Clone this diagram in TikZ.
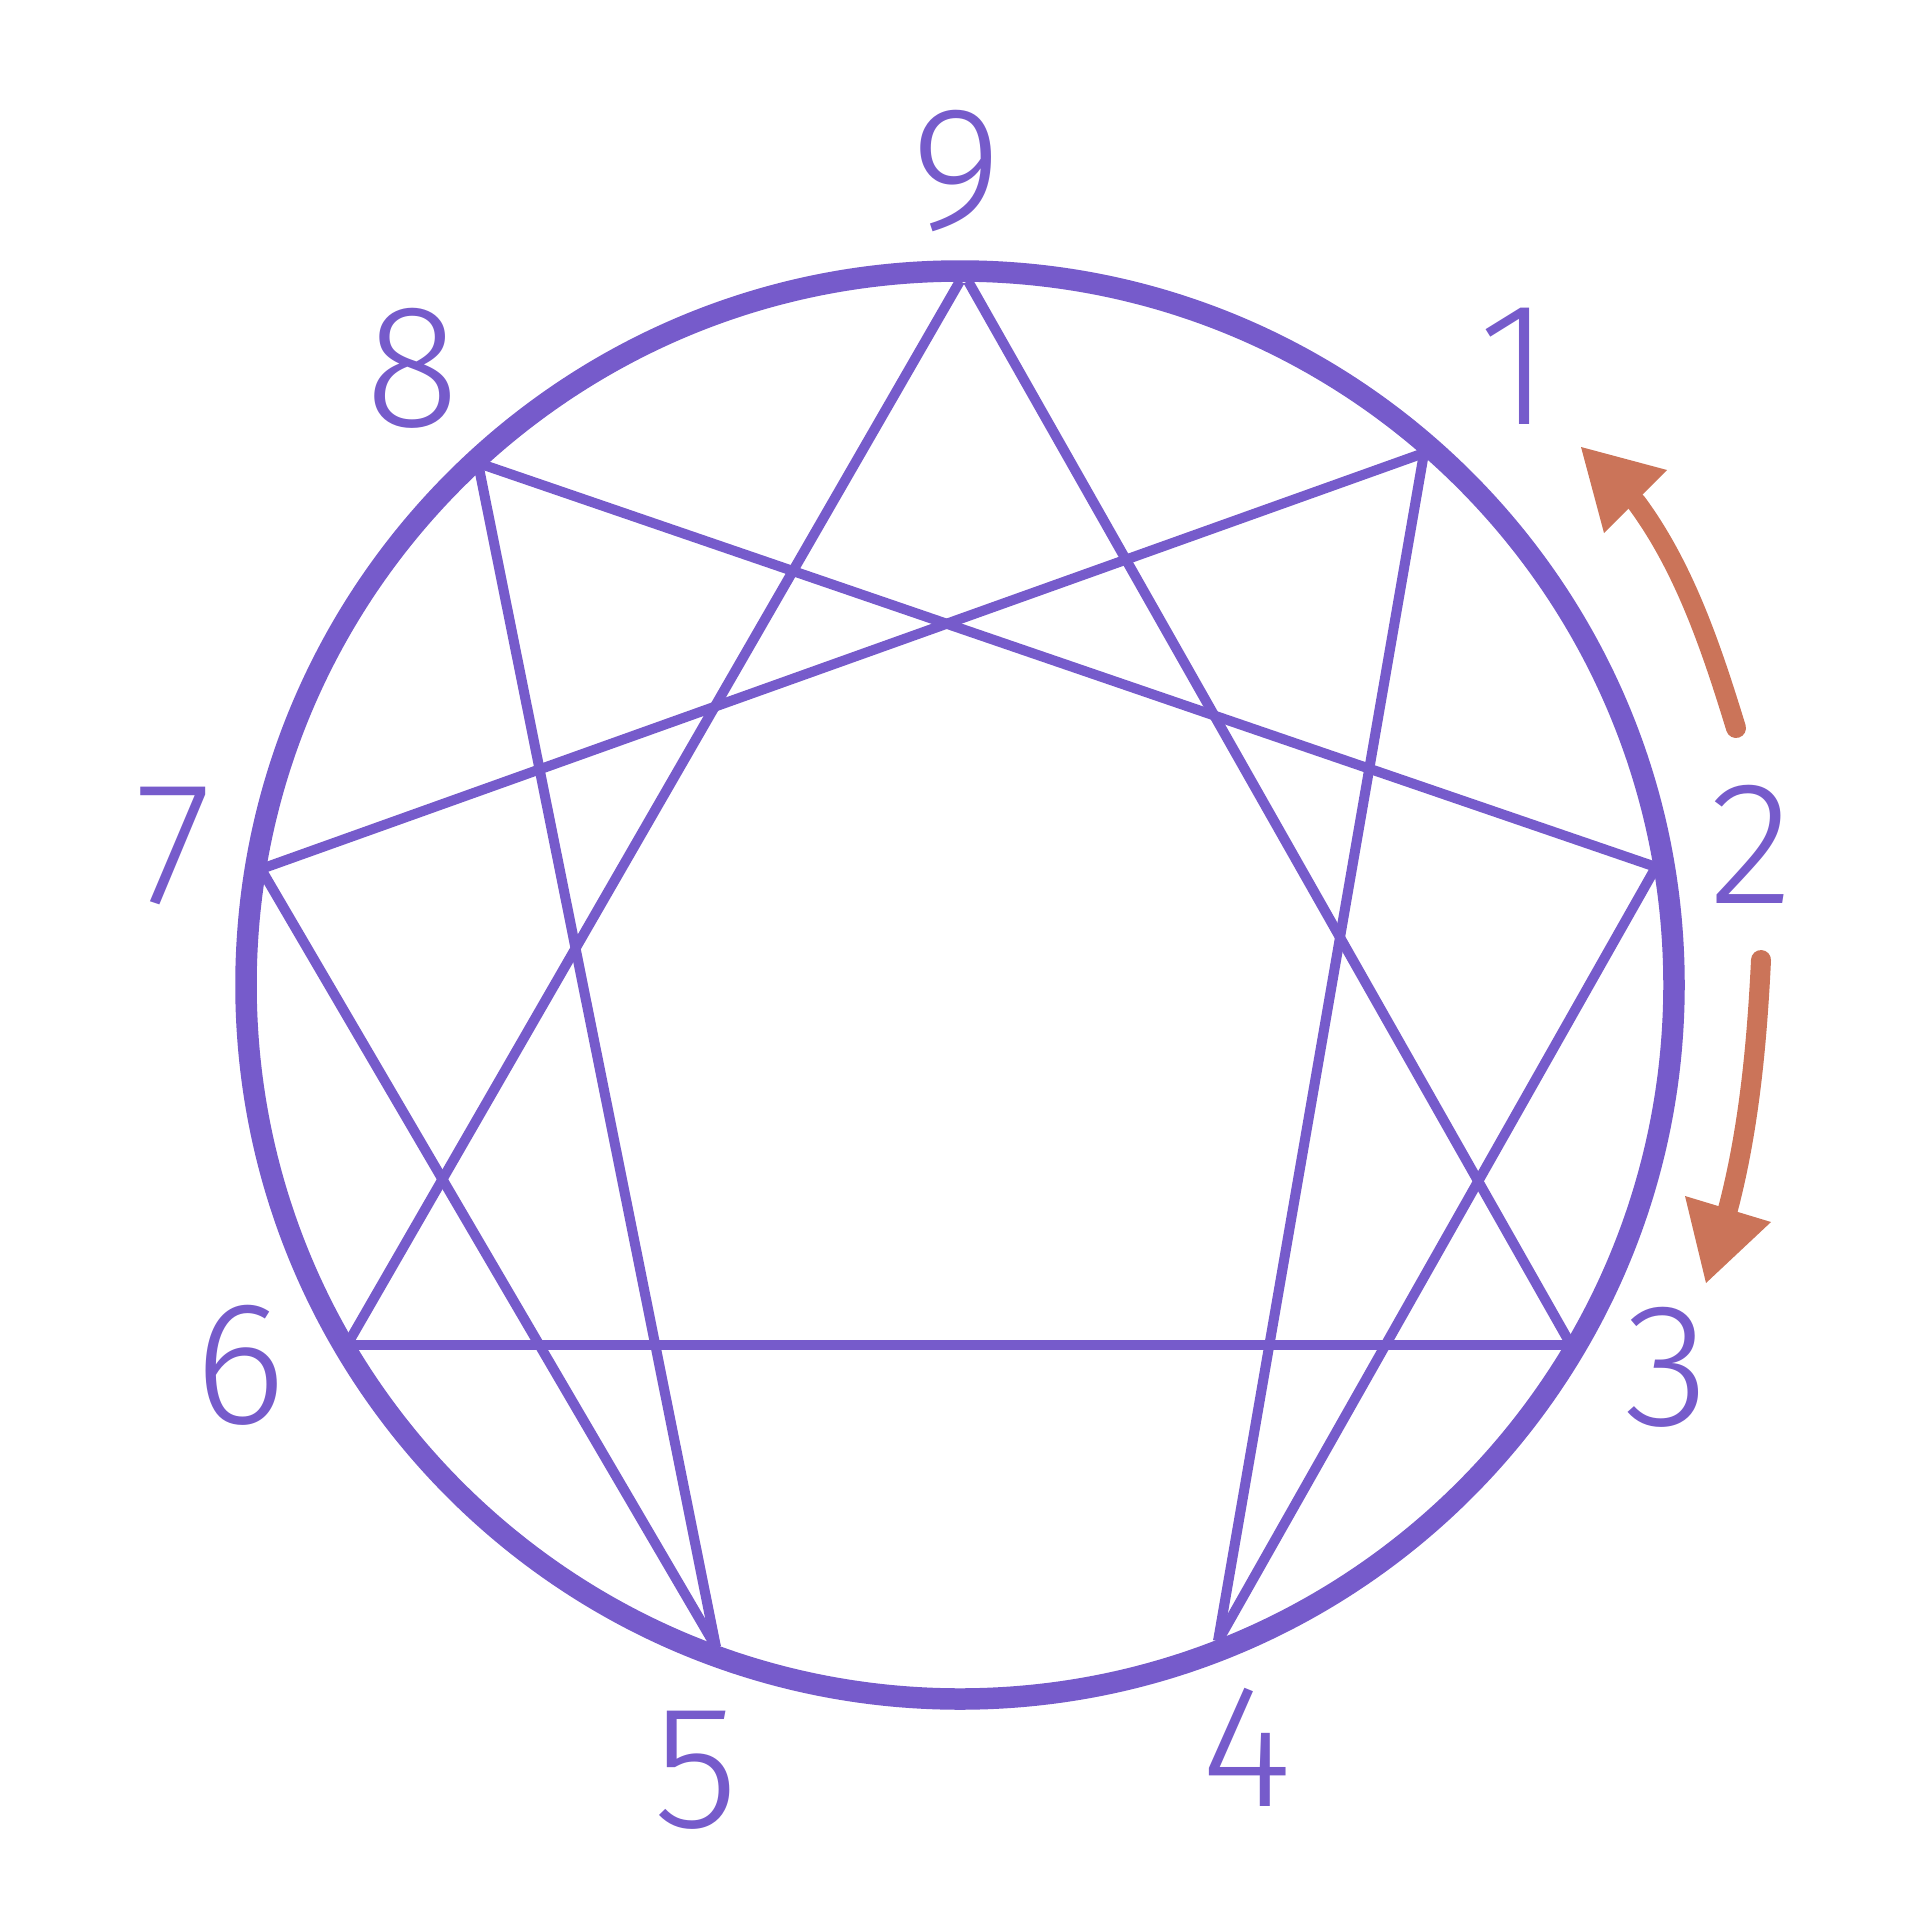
\documentclass[tikz,border=0pt]{standalone}
\usepackage{fontspec}
\setmainfont{Fira Sans Light}
\definecolor{ennpurple}{HTML}{765BCB}
\definecolor{ennorange}{HTML}{CB7459}
\begin{document}
\begin{tikzpicture}[x=1pt,y=-1pt,
  chord/.style={draw=ennpurple, line width=10pt},
  ring/.style={draw=ennpurple, line width=21.5pt},
  lbl/.style={text=ennpurple, inner sep=0pt, font=\fontsize{175}{175}\selectfont},
  flow/.style={draw=ennorange, line width=20pt, line cap=round},
  head/.style={fill=ennorange}]
\useasboundingbox (0,0) rectangle (1920,1920);
\coordinate (c) at (960,985);
% vertices
\coordinate (v9a) at (960,281);
\coordinate (v9b) at (968,281);
\coordinate (v1) at (1424,453);
\coordinate (v2) at (1656,867);
\coordinate (v3) at (1571,1345);
\coordinate (v4) at (1218,1641);
\coordinate (v5) at (716,1647);
\coordinate (v6) at (347,1345);
\coordinate (v7) at (261,869);
\coordinate (v8) at (478,463);
% triangle
\draw[chord] (v9b) -- (v3);
\draw[chord] (v9a) -- (v6);
\draw[chord] (v3) -- (v6);
% hexad
\draw[chord] (v1) -- (v4);
\draw[chord] (v4) -- (v2);
\draw[chord] (v2) -- (v8);
\draw[chord] (v8) -- (v5);
\draw[chord] (v5) -- (v7);
\draw[chord] (v7) -- (v1);
% ring
\draw[ring] (c) circle[radius=714];
% labels
\node[lbl] (l9) at (957,171) {9};
\node[lbl] (l1) at (1515,366) {1};
\node[lbl] (l2) at (1751,844) {2};
\node[lbl] (l3) at (1667,1367) {3};
\node[lbl] (l4) at (1247,1747) {4};
\node[lbl] (l5) at (696,1770) {5};
\node[lbl] (l6) at (240,1365) {6};
\node[lbl] (l7) at (174,846) {7};
\node[lbl] (l8) at (413,368) {8};
% arrows
\coordinate (a1s) at (1736,728);
\coordinate (a1e) at (1636,502);
\coordinate (a1t) at (1581,447);
\coordinate (a2s) at (1761,960);
\coordinate (a2e) at (1728,1209);
\coordinate (a2t) at (1706,1283);
\draw[flow] (a1s) .. controls (1712,650) and (1685,568) .. (a1e);
\fill[head] (a1t) -- (1667,470) -- (1604,533) -- cycle;
\draw[flow] (a2s) .. controls (1757,1043) and (1749,1129) .. (a2e);
\fill[head] (a2t) -- (1685,1196) -- (1771,1222) -- cycle;
\end{tikzpicture}
\end{document}
